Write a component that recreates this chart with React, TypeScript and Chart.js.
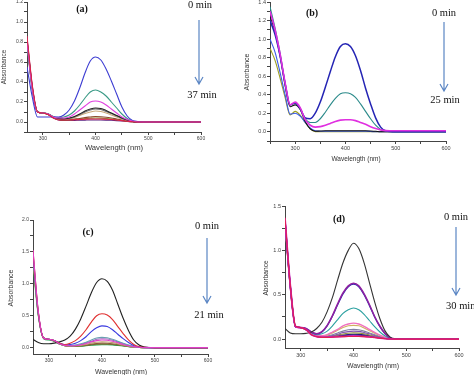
import React, { useEffect, useRef } from 'react';
import { Chart, registerables } from 'chart.js';
Chart.register(...registerables);

// ---------- wavelengths (nm) ----------
const WL_A = [270,280,290,300,310,320,330,340,350,360,370,380,390,400,410,420,430,440,450,460,470,480,500,600];
const WL_B = [250,260,270,280,290,300,310,320,330,340,350,360,370,380,390,400,410,420,430,440,450,460,470,480,500,600];

// ---------- panel (a): 0 min -> 37 min ----------
const A_BLUE =    [0.55,0.25,0.05,0.05,0.05,0.05,0.05,0.07,0.12,0.21,0.34,0.49,0.61,0.65,0.62,0.53,0.41,0.28,0.15,0.06,0.015,0.005,0,0];
const A_TEAL =    [0.78,0.32,0.10,0.09,0.08,0.055,0.045,0.05,0.07,0.11,0.17,0.24,0.30,0.32,0.30,0.26,0.20,0.14,0.08,0.035,0.01,0.005,0,0];
const A_MAGENTA = [0.80,0.33,0.10,0.09,0.08,0.05,0.04,0.04,0.05,0.08,0.12,0.16,0.20,0.21,0.20,0.17,0.13,0.09,0.05,0.025,0.01,0,0,0];
const A_BLACK =   [0.82,0.34,0.10,0.09,0.08,0.05,0.035,0.03,0.04,0.055,0.08,0.11,0.13,0.14,0.135,0.115,0.09,0.065,0.04,0.02,0.005,0,0,0];
const A_GRAY =    [0.79,0.33,0.10,0.09,0.08,0.05,0.035,0.03,0.035,0.05,0.075,0.10,0.12,0.13,0.125,0.105,0.085,0.06,0.035,0.018,0.005,0,0,0];
const A_TAN =     [0.81,0.34,0.10,0.09,0.08,0.05,0.03,0.025,0.03,0.045,0.065,0.085,0.10,0.11,0.105,0.09,0.07,0.05,0.03,0.015,0.005,0,0,0];
const A_BROWN =   [0.83,0.35,0.10,0.09,0.075,0.045,0.025,0.02,0.025,0.03,0.035,0.045,0.05,0.055,0.053,0.048,0.04,0.03,0.02,0.01,0.003,0,0,0];
const A_OLIVE =   [0.80,0.34,0.10,0.09,0.075,0.045,0.025,0.02,0.02,0.025,0.03,0.035,0.038,0.04,0.039,0.035,0.03,0.022,0.015,0.008,0.002,0,0,0];
const A_PURPLE =  [0.84,0.36,0.10,0.09,0.075,0.04,0.02,0.015,0.015,0.016,0.018,0.019,0.02,0.02,0.02,0.019,0.017,0.014,0.01,0.005,0.002,0,0,0];
const A_RED =     [0.86,0.37,0.10,0.09,0.075,0.04,0.02,0.02,0.02,0.022,0.025,0.028,0.03,0.03,0.03,0.028,0.025,0.02,0.014,0.008,0.002,0,0,0];

// ---------- panel (b): 0 min -> 25 min ----------
const B_NAVY =    [1.20,1.05,0.82,0.52,0.29,0.31,0.25,0.15,0.14,0.20,0.32,0.48,0.65,0.81,0.92,0.95,0.92,0.82,0.66,0.47,0.30,0.15,0.05,0.01,0,0];
const B_TEAL =    [1.35,1.12,0.85,0.53,0.29,0.31,0.25,0.14,0.10,0.10,0.14,0.21,0.29,0.36,0.41,0.42,0.41,0.37,0.30,0.22,0.14,0.07,0.025,0.01,0,0];
const B_MAGENTA = [1.30,1.10,0.84,0.53,0.29,0.32,0.26,0.13,0.07,0.05,0.055,0.07,0.09,0.11,0.125,0.13,0.13,0.12,0.10,0.08,0.055,0.035,0.02,0.012,0.01,0.01];
const B_BLACK =   [1.25,1.08,0.82,0.50,0.27,0.29,0.24,0.11,0.03,0.005,0.008,0.01,0.01,0.01,0.01,0.01,0.01,0.01,0.01,0.01,0.008,0.005,0,0,0,0];
const B_BLUE =    [1.00,0.86,0.64,0.40,0.19,0.20,0.17,0.10,0.04,0.01,0.005,0.005,0.005,0.005,0.005,0.005,0.005,0.005,0.005,0.005,0.003,0,0,0,0,0];
const B_OLIVE =   [0.90,0.77,0.58,0.37,0.18,0.22,0.18,0.10,0.03,0,0,0,0,0,0,0,0,0,0,0,0,0,0,0,0,0];

// ---------- panel (c): 0 min -> 21 min ----------
const C_BLACK =   [0.13,0.08,0.06,0.06,0.07,0.09,0.12,0.18,0.29,0.45,0.65,0.86,1.02,1.08,1.04,0.90,0.68,0.46,0.27,0.12,0.04,0.01,0,0];
const C_RED =     [1.52,0.56,0.15,0.13,0.11,0.07,0.05,0.07,0.11,0.18,0.28,0.40,0.50,0.53,0.51,0.44,0.33,0.22,0.12,0.05,0.015,0.005,0,0];
const C_BLUE =    [1.48,0.55,0.15,0.13,0.11,0.07,0.045,0.05,0.07,0.11,0.17,0.25,0.31,0.34,0.33,0.28,0.21,0.14,0.08,0.035,0.01,0.005,0,0];
const C_TEAL =    [1.42,0.53,0.15,0.13,0.11,0.065,0.04,0.03,0.04,0.06,0.085,0.12,0.15,0.16,0.155,0.13,0.10,0.07,0.04,0.02,0.005,0,0,0];
const C_PURPLE =  [1.45,0.54,0.15,0.13,0.11,0.065,0.04,0.03,0.035,0.05,0.075,0.10,0.13,0.14,0.135,0.115,0.09,0.06,0.035,0.018,0.005,0,0,0];
const C_MAGENTA = [1.53,0.57,0.15,0.13,0.11,0.06,0.035,0.03,0.03,0.045,0.065,0.09,0.11,0.12,0.115,0.10,0.075,0.05,0.03,0.015,0.005,0,0,0];
const C_TAN =     [1.40,0.53,0.15,0.13,0.11,0.06,0.035,0.025,0.03,0.035,0.05,0.07,0.085,0.09,0.088,0.078,0.06,0.04,0.025,0.012,0.004,0,0,0];
const C_BROWN =   [1.38,0.52,0.15,0.13,0.105,0.06,0.03,0.025,0.025,0.03,0.04,0.055,0.065,0.07,0.068,0.06,0.048,0.035,0.02,0.01,0.003,0,0,0];
const C_OLIVE =   [1.36,0.52,0.15,0.13,0.105,0.055,0.03,0.02,0.02,0.025,0.035,0.045,0.052,0.055,0.054,0.048,0.04,0.03,0.018,0.009,0.003,0,0,0];
const C_GREEN =   [1.30,0.50,0.14,0.12,0.10,0.055,0.03,0.02,0.02,0.022,0.03,0.037,0.043,0.045,0.044,0.04,0.033,0.025,0.015,0.008,0.002,0,0,0];

// ---------- panel (d): 0 min -> 30 min ----------
const D_BLACK =   [0.12,0.07,0.06,0.06,0.065,0.08,0.12,0.19,0.31,0.47,0.67,0.86,1.00,1.08,1.02,0.86,0.64,0.42,0.23,0.09,0.02,0.005,0,0];
const D_NAVY =    [1.35,0.60,0.14,0.13,0.12,0.08,0.06,0.08,0.15,0.26,0.39,0.51,0.59,0.62,0.59,0.50,0.38,0.25,0.14,0.06,0.015,0,0,0];
const D_PURPLE =  [1.34,0.60,0.14,0.13,0.12,0.08,0.06,0.085,0.155,0.265,0.40,0.52,0.60,0.63,0.60,0.51,0.39,0.255,0.145,0.062,0.015,0,0,0];
const D_TEAL =    [1.34,0.60,0.14,0.13,0.11,0.07,0.05,0.06,0.09,0.15,0.22,0.29,0.33,0.35,0.33,0.28,0.21,0.14,0.08,0.035,0.01,0,0,0];
const D_PINK =    [1.33,0.59,0.14,0.13,0.11,0.065,0.04,0.04,0.05,0.08,0.11,0.15,0.17,0.18,0.17,0.145,0.11,0.075,0.045,0.02,0.005,0,0,0];
const D_TAN =     [1.32,0.59,0.14,0.13,0.11,0.065,0.04,0.035,0.045,0.07,0.10,0.13,0.15,0.155,0.15,0.125,0.095,0.065,0.04,0.018,0.005,0,0,0];
const D_GRAY =    [1.33,0.59,0.14,0.13,0.11,0.06,0.035,0.03,0.035,0.05,0.07,0.09,0.105,0.11,0.105,0.09,0.07,0.05,0.03,0.014,0.004,0,0,0];
const D_VIOLET =  [1.34,0.60,0.14,0.13,0.11,0.06,0.035,0.03,0.03,0.04,0.055,0.075,0.085,0.09,0.087,0.075,0.06,0.042,0.025,0.012,0.003,0,0,0];
const D_OLIVE =   [1.32,0.59,0.14,0.13,0.11,0.06,0.03,0.025,0.028,0.035,0.045,0.058,0.067,0.07,0.068,0.06,0.047,0.033,0.02,0.01,0.003,0,0,0];
const D_NAVY2 =   [1.35,0.60,0.14,0.13,0.105,0.055,0.03,0.025,0.025,0.03,0.038,0.046,0.052,0.055,0.054,0.048,0.038,0.027,0.017,0.008,0.002,0,0,0];
const D_DARK =    [1.34,0.60,0.14,0.13,0.105,0.055,0.03,0.025,0.025,0.028,0.033,0.039,0.043,0.045,0.044,0.04,0.032,0.023,0.014,0.007,0.002,0,0,0];
const D_MAGENTA = [1.36,0.61,0.14,0.13,0.105,0.05,0.028,0.022,0.022,0.025,0.028,0.032,0.034,0.035,0.034,0.031,0.026,0.019,0.012,0.006,0.002,0,0,0];
const D_RED =     [1.37,0.61,0.15,0.13,0.105,0.05,0.028,0.02,0.02,0.022,0.025,0.028,0.03,0.03,0.03,0.028,0.024,0.018,0.011,0.005,0.001,0,0,0];

type Ser = { y: number[]; color: string; w?: number };
type Note = {
  absX: number; absY: number; absSize: number;
  wlX: number; wlY: number; wlSize: number;
  tag: string; tagX: number; tagY: number;
  t0: string; t0X: number; t0Y: number;
  t1: string; t1X: number; t1Y: number; t1Align: CanvasTextAlign;
  arX: number; arY1: number; arY2: number;
};
type Panel = {
  qx: number; qy: number; qw: number; qh: number;
  left: number; top: number; right: number; bottom: number;
  xMin: number; xMax: number; yMin: number; yMax: number; yStep: number; yLab: number;
  tickSize: number; wl: number[]; series: Ser[]; note: Note;
};

const PANELS: Panel[] = [
  {
    qx: 0, qy: 0, qw: 237, qh: 185, left: 27, top: 2, right: 201, bottom: 132,
    xMin: 270, xMax: 600, yMin: -0.1, yMax: 1.2, yStep: 0.1, yLab: 0.2, tickSize: 5, wl: WL_A,
    series: [
      { y: A_RED, color: '#e0204a' }, { y: A_MAGENTA, color: '#e040e0' }, { y: A_BLUE, color: '#3c3cd2' },
      { y: A_TEAL, color: '#3a9a86' }, { y: A_BLACK, color: '#222222' }, { y: A_GRAY, color: '#707070' },
      { y: A_TAN, color: '#c8a878' }, { y: A_BROWN, color: '#8b4a2a' }, { y: A_OLIVE, color: '#8a8a30' },
      { y: A_PURPLE, color: '#5a2080' },
    ],
    note: { absX: 4, absY: 67, absSize: 6.5, wlX: 114, wlY: 148, wlSize: 7.7, tag: '(a)', tagX: 82, tagY: 9,
      t0: '0 min', t0X: 200, t0Y: 5, t1: '37 min', t1X: 202, t1Y: 95, t1Align: 'center', arX: 199, arY1: 20, arY2: 84 },
  },
  {
    qx: 237, qy: 0, qw: 237, qh: 185, left: 270, top: 2, right: 446, bottom: 141,
    xMin: 250, xMax: 600, yMin: -0.1, yMax: 1.4, yStep: 0.1, yLab: 0.2, tickSize: 5.5, wl: WL_B,
    series: [
      { y: B_MAGENTA, color: '#e030e0', w: 1.6 }, { y: B_NAVY, color: '#2424b4', w: 1.5 }, { y: B_TEAL, color: '#2a8a8a' },
      { y: B_BLACK, color: '#111111' }, { y: B_BLUE, color: '#3a5ae8' }, { y: B_OLIVE, color: '#a0a020' },
    ],
    note: { absX: 247, absY: 72, absSize: 6.9, wlX: 356, wlY: 159, wlSize: 6.5, tag: '(b)', tagX: 312, tagY: 13,
      t0: '0 min', t0X: 444, t0Y: 13, t1: '25 min', t1X: 445, t1Y: 100, t1Align: 'center', arX: 444, arY1: 22, arY2: 91 },
  },
  {
    qx: 0, qy: 185, qw: 237, qh: 190, left: 33, top: 220, right: 208, bottom: 354,
    xMin: 270, xMax: 600, yMin: -0.1, yMax: 2.0, yStep: 0.25, yLab: 0.5, tickSize: 5, wl: WL_A,
    series: [
      { y: C_MAGENTA, color: '#e040c8' }, { y: C_RED, color: '#e03030' }, { y: C_BLACK, color: '#222222' },
      { y: C_BLUE, color: '#3a3ae0' }, { y: C_TEAL, color: '#6aa0b0' }, { y: C_PURPLE, color: '#a060c0' },
      { y: C_TAN, color: '#c0a070' }, { y: C_BROWN, color: '#8b5a3a' }, { y: C_OLIVE, color: '#707030' },
      { y: C_GREEN, color: '#20a050' },
    ],
    note: { absX: 11, absY: 288, absSize: 6.9, wlX: 121, wlY: 372, wlSize: 6.9, tag: '(c)', tagX: 88, tagY: 232,
      t0: '0 min', t0X: 207, t0Y: 226, t1: '21 min', t1X: 209, t1Y: 315, t1Align: 'center', arX: 207, arY1: 238, arY2: 303 },
  },
  {
    qx: 237, qy: 185, qw: 237, qh: 190, left: 285, top: 206, right: 459, bottom: 348,
    xMin: 270, xMax: 600, yMin: -0.1, yMax: 1.5, yStep: 0.25, yLab: 0.5, tickSize: 5.5, wl: WL_A,
    series: [
      { y: D_RED, color: '#e02050' }, { y: D_MAGENTA, color: '#d020c0', w: 1.8 }, { y: D_BLACK, color: '#333333' },
      { y: D_PURPLE, color: '#9020a0', w: 1.5 }, { y: D_NAVY, color: '#2a2ab0', w: 1.3 }, { y: D_TEAL, color: '#2aa0a0' },
      { y: D_PINK, color: '#f070c0', w: 1.4 }, { y: D_TAN, color: '#d0b060' }, { y: D_GRAY, color: '#8080a0' },
      { y: D_VIOLET, color: '#8050b0' }, { y: D_OLIVE, color: '#909040' }, { y: D_NAVY2, color: '#202080' },
      { y: D_DARK, color: '#111111' },
    ],
    note: { absX: 266, absY: 278, absSize: 6.6, wlX: 373, wlY: 366, wlSize: 6.9, tag: '(d)', tagX: 339, tagY: 219,
      t0: '0 min', t0X: 456, t0Y: 217, t1: '30 min', t1X: 446, t1Y: 306, t1Align: 'left', arX: 456, arY1: 227, arY2: 295 },
  },
];

const LW = 20;
const BH = 14;

function PanelChart({ p }: { p: Panel }) {
  const ref = useRef<HTMLCanvasElement | null>(null);
  useEffect(() => {
    const canvas = ref.current;
    if (!canvas) return;
    const n = p.note;
    const notes = {
      id: 'notes',
      afterDraw(chart: any) {
        const ctx: CanvasRenderingContext2D = chart.ctx;
        ctx.save();
        ctx.translate(-p.qx, -p.qy);
        ctx.fillStyle = '#333';
        ctx.textBaseline = 'middle';
        ctx.save();
        ctx.translate(n.absX, n.absY);
        ctx.rotate(-Math.PI / 2);
        ctx.font = `${n.absSize}px Arial`;
        ctx.textAlign = 'center';
        ctx.fillText('Absorbance', 0, 0);
        ctx.restore();
        ctx.font = `${n.wlSize}px Arial`;
        ctx.textAlign = 'center';
        ctx.fillText('Wavelength (nm)', n.wlX, n.wlY);
        ctx.fillStyle = '#111';
        ctx.font = 'bold 10px "Liberation Serif"';
        ctx.fillText(n.tag, n.tagX, n.tagY);
        ctx.font = '10.5px "Liberation Serif"';
        ctx.fillText(n.t0, n.t0X, n.t0Y);
        ctx.textAlign = n.t1Align;
        ctx.fillText(n.t1, n.t1X, n.t1Y);
        ctx.strokeStyle = '#5b86c4';
        ctx.lineWidth = 1.2;
        ctx.beginPath();
        ctx.moveTo(n.arX, n.arY1);
        ctx.lineTo(n.arX, n.arY2);
        ctx.moveTo(n.arX - 4, n.arY2 - 7);
        ctx.lineTo(n.arX, n.arY2);
        ctx.lineTo(n.arX + 4, n.arY2 - 7);
        ctx.stroke();
        ctx.restore();
      },
    };
    const tickFont = { size: p.tickSize, family: 'Arial' };
    const chart = new Chart(canvas, {
      type: 'line',
      data: {
        datasets: p.series.map((s) => ({
          data: p.wl.map((x, i) => ({ x, y: s.y[i] })),
          borderColor: s.color,
          borderWidth: s.w ?? 1.1,
          pointRadius: 0,
          fill: false,
          cubicInterpolationMode: 'monotone' as const,
        })),
      },
      options: {
        animation: false,
        responsive: false,
        maintainAspectRatio: false,
        devicePixelRatio: 1,
        events: [],
        layout: {
          padding: {
            left: p.left - p.qx - LW,
            top: p.top - p.qy,
            right: p.qx + p.qw - p.right,
            bottom: p.qy + p.qh - p.bottom - BH,
          },
        },
        plugins: { legend: { display: false }, tooltip: { enabled: false } },
        scales: {
          x: {
            type: 'linear',
            min: p.xMin,
            max: p.xMax,
            grid: { drawOnChartArea: false, drawTicks: true, tickLength: 3, color: '#444' },
            border: { display: true, color: '#444', width: 1 },
            ticks: {
              stepSize: 50, includeBounds: false, autoSkip: false, maxRotation: 0, padding: 1,
              maxTicksLimit: 100, font: tickFont, color: '#444',
              callback: (v: any) => (Math.round(Number(v)) % 100 === 0 ? String(Math.round(Number(v))) : ''),
            },
            afterFit: (s: any) => { s.height = BH; s.paddingLeft = 0; s.paddingRight = 0; },
          },
          y: {
            type: 'linear',
            min: p.yMin,
            max: p.yMax,
            grid: { drawOnChartArea: false, drawTicks: true, tickLength: 3, color: '#444' },
            border: { display: true, color: '#444', width: 1 },
            ticks: {
              stepSize: p.yStep, includeBounds: false, autoSkip: false, padding: 1,
              maxTicksLimit: 100, font: tickFont, color: '#444',
              callback: (v: any) => {
                const val = Number(v);
                if (val < -1e-9) return '';
                const k = Math.round((val / p.yLab) * 1000) / 1000;
                return Number.isInteger(k) ? val.toFixed(1) : '';
              },
            },
            afterFit: (s: any) => { s.width = LW; s.paddingTop = 0; s.paddingBottom = 0; },
          },
        },
      } as any,
      plugins: [notes],
    });
    return () => chart.destroy();
  }, [p]);
  return (
    <canvas
      ref={ref}
      width={p.qw}
      height={p.qh}
      style={{ position: 'absolute', left: p.qx, top: p.qy, width: p.qw, height: p.qh }}
    />
  );
}

export default function App() {
  return (
    <div style={{ position: 'fixed', left: 0, top: 0, width: 474, height: 375, background: '#fff', overflow: 'hidden' }}>
      {PANELS.map((p, i) => (
        <PanelChart key={i} p={p} />
      ))}
    </div>
  );
}
